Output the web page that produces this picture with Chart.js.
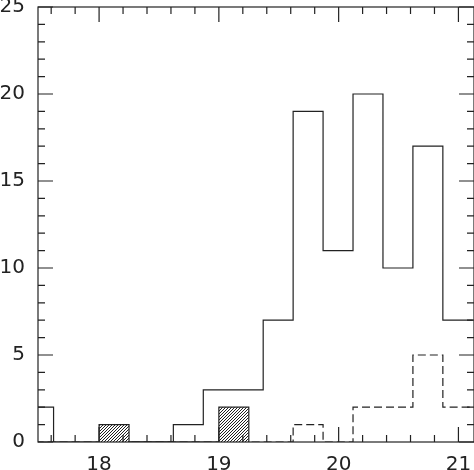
<!DOCTYPE html>
<html>
<head>
<meta charset="utf-8">
<script src="https://cdn.jsdelivr.net/npm/chart.js@4.4.0/dist/chart.umd.min.js"></script>
<style>
  html, body { margin: 0; padding: 0; background: #fff; overflow: hidden; }
  #wrap { width: 474px; height: 470px; }
</style>
</head>
<body>
<div id="wrap"><canvas id="hist" width="474" height="470"></canvas></div>
<script>
// bin left edges (magnitude), bin width 0.25
const binLeft = [17.37, 17.62, 17.87, 18.12, 18.37, 18.62, 18.87, 19.12, 19.37, 19.62, 19.87, 20.12, 20.37, 20.62, 20.87];
const binWidth = 0.25;

// solid histogram (all)
const allCounts = [2, 0, 0, 0, 0, 1, 3, 3, 7, 19, 11, 20, 10, 17, 7];
// dashed histogram
const dashCounts = [0, 0, 0, 0, 0, 0, 0, 0, 0, 1, 0, 2, 2, 5, 2];
// hatched bins
const hatchLeft = [18.0, 19.0];
const hatchCounts = [1, 2];

const xTicks = [18, 19, 20, 21];
const yTicks = [0, 5, 10, 15, 20, 25];

const ink = '#222';
const font = { family: 'DejaVu Sans', size: 20 };

function stepPoints(lefts, counts) {
    const pts = [];
    lefts.forEach((l, i) => {
        pts.push({ x: l, y: counts[i] });
        pts.push({ x: l + binWidth, y: counts[i] });
    });
    return pts;
}

function boxPoints(lefts, counts) {
    const pts = [];
    lefts.forEach((l, i) => {
        pts.push({ x: l, y: 0 }, { x: l, y: counts[i] });
        pts.push({ x: l + binWidth, y: counts[i] }, { x: l + binWidth, y: 0 });
    });
    return pts;
}

// hatch pattern "////"
const tile = document.createElement('canvas');
tile.width = 3;
tile.height = 3;
const tctx = tile.getContext('2d');
tctx.fillStyle = '#fff';
tctx.fillRect(0, 0, 3, 3);
tctx.fillStyle = ink;
tctx.fillRect(0, 2, 1, 1);
tctx.fillRect(1, 1, 1, 1);
tctx.fillRect(2, 0, 1, 1);
const hatch = document.getElementById('hist').getContext('2d').createPattern(tile, 'repeat');

// inward ticks on all four sides, plus the frame
const frameTicks = {
    id: 'frameTicks',
    afterDatasetsDraw(chart) {
        const { ctx, chartArea: a, scales: { x, y } } = chart;
        ctx.save();
        ctx.strokeStyle = ink;
        ctx.lineWidth = 1.2;
        ctx.strokeRect(a.left, a.top, a.right - a.left, a.bottom - a.top);
        ctx.beginPath();
        for (let k = 0; k <= 25; k++) {
            const py = y.getPixelForValue(k);
            const len = k % 5 === 0 ? 15 : 7;
            ctx.moveTo(a.left, py); ctx.lineTo(a.left + len, py);
            ctx.moveTo(a.right, py); ctx.lineTo(a.right - len, py);
        }
        for (let k = 88; k <= 105; k++) {
            const v = k / 5;
            const px = x.getPixelForValue(v);
            if (px < a.left || px > a.right) continue;
            const len = k % 5 === 0 ? 15 : 7;
            ctx.moveTo(px, a.bottom); ctx.lineTo(px, a.bottom - len);
            ctx.moveTo(px, a.top); ctx.lineTo(px, a.top + len);
        }
        ctx.stroke();
        ctx.restore();
    }
};

new Chart(document.getElementById('hist'), {
    type: 'line',
    data: {
        datasets: [
            {
                data: boxPoints(hatchLeft, hatchCounts),
                borderColor: ink,
                borderWidth: 1.2,
                backgroundColor: hatch,
                fill: 'origin',
                pointRadius: 0
            },
            {
                data: stepPoints(binLeft, dashCounts),
                borderColor: ink,
                borderWidth: 1.2,
                borderDash: [8, 4],
                fill: false,
                pointRadius: 0
            },
            {
                data: stepPoints(binLeft, allCounts),
                borderColor: ink,
                borderWidth: 1.2,
                fill: false,
                pointRadius: 0
            }
        ]
    },
    options: {
        responsive: false,
        animation: false,
        layout: { padding: { top: 7, right: -1, left: 0, bottom: 0 } },
        plugins: { legend: { display: false }, tooltip: { enabled: false } },
        elements: { line: { tension: 0 } },
        scales: {
            x: {
                type: 'linear',
                min: 17.49,
                max: 21.13,
                grid: { display: false, drawTicks: false },
                border: { display: false },
                ticks: { color: ink, font: font, padding: 11, maxRotation: 0 },
                afterBuildTicks(s) { s.ticks = xTicks.map(v => ({ value: v })); },
                afterFit(s) { s.height = 28; s.paddingLeft = 0; s.paddingRight = 0; }
            },
            y: {
                min: 0,
                max: 25,
                grid: { display: false, drawTicks: false },
                border: { display: false },
                ticks: { color: ink, font: font, padding: 13 },
                afterBuildTicks(s) { s.ticks = yTicks.map(v => ({ value: v })); },
                afterFit(s) { s.width = 38; s.paddingTop = 0; s.paddingBottom = 0; }
            }
        }
    },
    plugins: [frameTicks]
});
</script>
</body>
</html>
